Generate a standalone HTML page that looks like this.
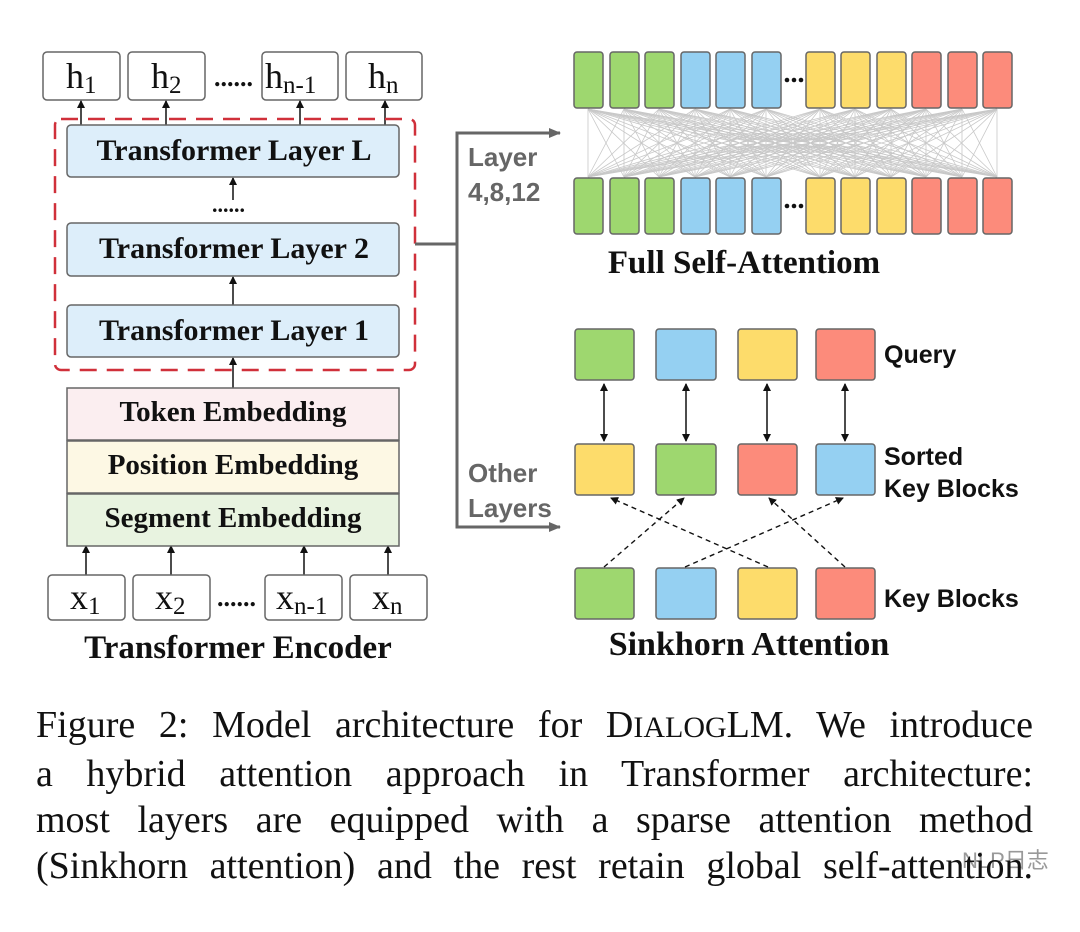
<!DOCTYPE html>
<html><head><meta charset="utf-8"><style>
html,body{margin:0;padding:0;background:#fff;}
.cap{position:absolute;left:36px;top:702px;width:997px;font-family:"Liberation Serif",serif;font-size:38px;line-height:46px;color:#111;text-align:justify;text-align-last:justify;white-space:nowrap;}
.cap span.l{display:block;white-space:normal;}
</style></head><body>
<div style="position:relative;width:1080px;height:932px;overflow:hidden;">
<svg width="1080" height="932" xmlns="http://www.w3.org/2000/svg" style="position:absolute;left:0;top:0">
<defs>
<marker id="a" markerWidth="8" markerHeight="8" refX="7" refY="4" orient="auto-start-reverse" markerUnits="userSpaceOnUse"><path d="M0,0 L8,4 L0,8 z" fill="#111"/></marker>
<marker id="ag" markerWidth="12" markerHeight="10" refX="11" refY="5" orient="auto" markerUnits="userSpaceOnUse"><path d="M0,0 L12,5 L0,10 z" fill="#666"/></marker>
</defs>
<g font-family="Liberation Serif, serif" fill="#111">
<g stroke="#666" stroke-width="1.5" fill="#fff">
<rect x="43" y="52" width="77" height="48" rx="4"/><rect x="128" y="52" width="77" height="48" rx="4"/>
<rect x="262" y="52" width="76" height="48" rx="4"/><rect x="346" y="52" width="76" height="48" rx="4"/>
</g>
<g font-size="36"><text x="66" y="88">h<tspan font-size="25" dy="5">1</tspan></text>
<text x="151" y="88">h<tspan font-size="25" dy="5">2</tspan></text>
<text x="265" y="88">h<tspan font-size="25" dy="5">n-1</tspan></text>
<text x="368" y="88">h<tspan font-size="25" dy="5">n</tspan></text></g>
<text x="214" y="86" font-size="26" font-weight="bold">......</text>
<g stroke="#111" stroke-width="1.5" marker-end="url(#a)">
<line x1="81" y1="125" x2="81" y2="101"/><line x1="166" y1="125" x2="166" y2="101"/>
<line x1="300" y1="125" x2="300" y2="101"/><line x1="385" y1="125" x2="385" y2="101"/>
<line x1="233" y1="200" x2="233" y2="178"/><line x1="233" y1="305" x2="233" y2="277"/>
<line x1="233" y1="388" x2="233" y2="358"/>
<line x1="86" y1="575" x2="86" y2="546"/><line x1="171" y1="575" x2="171" y2="546"/>
<line x1="304" y1="575" x2="304" y2="546"/><line x1="388" y1="575" x2="388" y2="546"/>
</g>
<text x="212" y="212" font-size="22" font-weight="bold">......</text>
<rect x="55" y="119" width="360" height="251" rx="6" fill="none" stroke="#d0303a" stroke-width="2.5" stroke-dasharray="17,10"/>
<g stroke="#666" stroke-width="1.5" fill="#ddeefa">
<rect x="67" y="125" width="332" height="52" rx="4"/><rect x="67" y="223" width="332" height="53" rx="4"/><rect x="67" y="305" width="332" height="52" rx="4"/>
</g>
<g font-size="30" font-weight="bold" text-anchor="middle">
<text x="234" y="160">Transformer Layer L</text><text x="234" y="258">Transformer Layer 2</text><text x="234" y="340">Transformer Layer 1</text>
</g>
<g stroke="#666" stroke-width="1.5">
<rect x="67" y="388" width="332" height="52" fill="#fbeef0"/><rect x="67" y="441" width="332" height="52" fill="#fdf8e4"/><rect x="67" y="494" width="332" height="52" fill="#e8f3e0"/>
</g>
<g font-size="29" font-weight="bold" text-anchor="middle">
<text x="233" y="421">Token Embedding</text><text x="233" y="474">Position Embedding</text><text x="233" y="527">Segment Embedding</text>
</g>
<g stroke="#666" stroke-width="1.5" fill="#fff">
<rect x="48" y="575" width="77" height="45" rx="4"/><rect x="133" y="575" width="77" height="45" rx="4"/>
<rect x="265" y="575" width="77" height="45" rx="4"/><rect x="350" y="575" width="77" height="45" rx="4"/>
</g>
<g font-size="36"><text x="70" y="609">x<tspan font-size="25" dy="5">1</tspan></text>
<text x="155" y="609">x<tspan font-size="25" dy="5">2</tspan></text>
<text x="276" y="609">x<tspan font-size="25" dy="5">n-1</tspan></text>
<text x="372" y="609">x<tspan font-size="25" dy="5">n</tspan></text></g>
<text x="217" y="606" font-size="26" font-weight="bold">......</text>
<text x="238" y="658" font-size="33" font-weight="bold" text-anchor="middle">Transformer Encoder</text>
<g stroke="#666" stroke-width="3" fill="none">
<line x1="415" y1="244" x2="457" y2="244"/>
<polyline points="557,133 457,133 457,527 557,527"/>
<line x1="457" y1="133" x2="560" y2="133" marker-end="url(#ag)"/>
<line x1="457" y1="527" x2="560" y2="527" marker-end="url(#ag)"/>
</g>
<g font-family="Liberation Sans, sans-serif" font-size="26" font-weight="bold" fill="#666">
<text x="468" y="166">Layer</text><text x="468" y="201">4,8,12</text>
<text x="468" y="482">Other</text><text x="468" y="517">Layers</text>
</g>
<g stroke="#bbb" stroke-width="0.8" opacity="0.8" id="fl"></g>
<g stroke="#666" stroke-width="1.5">
<g fill="#9ed76f"><rect x="574" y="52" width="29" height="56" rx="3"/><rect x="610" y="52" width="29" height="56" rx="3"/><rect x="645" y="52" width="29" height="56" rx="3"/>
<rect x="574" y="178" width="29" height="56" rx="3"/><rect x="610" y="178" width="29" height="56" rx="3"/><rect x="645" y="178" width="29" height="56" rx="3"/></g>
<g fill="#95d0f2"><rect x="681" y="52" width="29" height="56" rx="3"/><rect x="716" y="52" width="29" height="56" rx="3"/><rect x="752" y="52" width="29" height="56" rx="3"/>
<rect x="681" y="178" width="29" height="56" rx="3"/><rect x="716" y="178" width="29" height="56" rx="3"/><rect x="752" y="178" width="29" height="56" rx="3"/></g>
<g fill="#fddc6b"><rect x="806" y="52" width="29" height="56" rx="3"/><rect x="841" y="52" width="29" height="56" rx="3"/><rect x="877" y="52" width="29" height="56" rx="3"/>
<rect x="806" y="178" width="29" height="56" rx="3"/><rect x="841" y="178" width="29" height="56" rx="3"/><rect x="877" y="178" width="29" height="56" rx="3"/></g>
<g fill="#fc8b7b"><rect x="912" y="52" width="29" height="56" rx="3"/><rect x="948" y="52" width="29" height="56" rx="3"/><rect x="983" y="52" width="29" height="56" rx="3"/>
<rect x="912" y="178" width="29" height="56" rx="3"/><rect x="948" y="178" width="29" height="56" rx="3"/><rect x="983" y="178" width="29" height="56" rx="3"/></g>
</g>
<g fill="#111"><circle cx="787" cy="80" r="2.3"/><circle cx="794" cy="80" r="2.3"/><circle cx="801" cy="80" r="2.3"/>
<circle cx="787" cy="206" r="2.3"/><circle cx="794" cy="206" r="2.3"/><circle cx="801" cy="206" r="2.3"/></g>
<text x="744" y="273" font-size="33" font-weight="bold" text-anchor="middle">Full Self-Attentiom</text>
<g stroke="#666" stroke-width="1.5">
<rect x="575" y="329" width="59" height="51" rx="3" fill="#9ed76f"/><rect x="656" y="329" width="60" height="51" rx="3" fill="#95d0f2"/><rect x="738" y="329" width="59" height="51" rx="3" fill="#fddc6b"/><rect x="816" y="329" width="59" height="51" rx="3" fill="#fc8b7b"/>
<rect x="575" y="444" width="59" height="51" rx="3" fill="#fddc6b"/><rect x="656" y="444" width="60" height="51" rx="3" fill="#9ed76f"/><rect x="738" y="444" width="59" height="51" rx="3" fill="#fc8b7b"/><rect x="816" y="444" width="59" height="51" rx="3" fill="#95d0f2"/>
<rect x="575" y="568" width="59" height="51" rx="3" fill="#9ed76f"/><rect x="656" y="568" width="60" height="51" rx="3" fill="#95d0f2"/><rect x="738" y="568" width="59" height="51" rx="3" fill="#fddc6b"/><rect x="816" y="568" width="59" height="51" rx="3" fill="#fc8b7b"/>
</g>
<g stroke="#111" stroke-width="1.5" marker-start="url(#a)" marker-end="url(#a)">
<line x1="604" y1="384" x2="604" y2="441"/><line x1="686" y1="384" x2="686" y2="441"/><line x1="767" y1="384" x2="767" y2="441"/><line x1="845" y1="384" x2="845" y2="441"/>
</g>
<g stroke="#111" stroke-width="1.4" stroke-dasharray="5,4" marker-end="url(#a)">
<line x1="604" y1="567" x2="684" y2="498"/><line x1="685" y1="567" x2="843" y2="498"/><line x1="768" y1="567" x2="611" y2="498"/><line x1="845" y1="567" x2="769" y2="498"/>
</g>
<g font-family="Liberation Sans, sans-serif" font-size="25" font-weight="bold">
<text x="884" y="363">Query</text><text x="884" y="465">Sorted</text><text x="884" y="497">Key Blocks</text><text x="884" y="607">Key Blocks</text>
</g>
<text x="749" y="655" font-size="34" font-weight="bold" text-anchor="middle">Sinkhorn Attention</text>
</g>
<text x="962" y="868" font-family="Liberation Sans, Noto Sans CJK SC, sans-serif" font-size="22" fill="#999">NLP日志</text>
</svg>
<div class="cap"><span class="l">Figure 2: Model architecture for D<span style="font-size:30px">IALOG</span>LM. We introduce</span><span class="l">a hybrid attention approach in Transformer architecture:</span><span class="l">most layers are equipped with a sparse attention method</span><span class="l">(Sinkhorn attention) and the rest retain global self-attention.</span></div>
</div>
<script>
var g=document.getElementById('fl'),xs=[588,624,659,695,730,766,820,855,891,926,962,997],s='';
for(var i=0;i<12;i++)for(var j=0;j<12;j++)s+='<line x1="'+xs[i]+'" y1="109" x2="'+xs[j]+'" y2="177"/>';
g.innerHTML=s;
</script>
</body></html>
